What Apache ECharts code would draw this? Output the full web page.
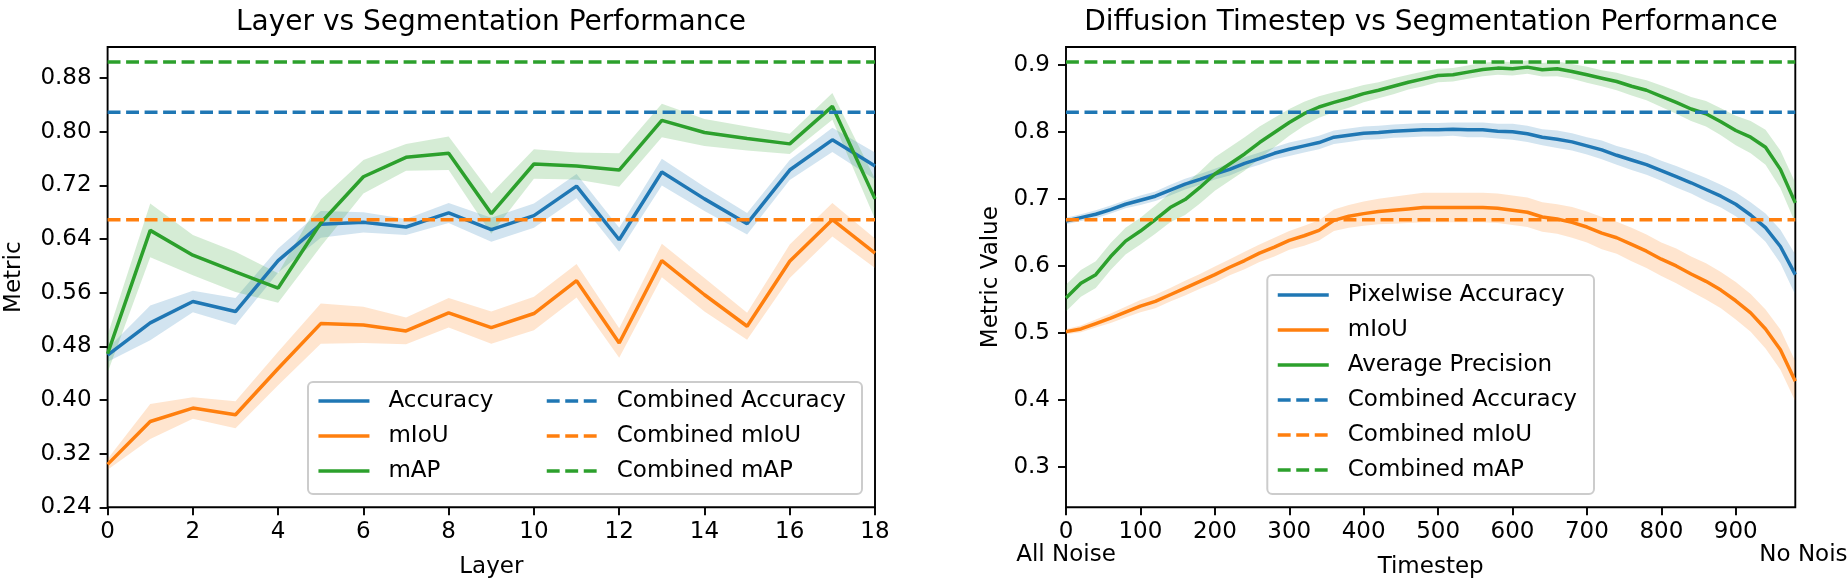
<!DOCTYPE html>
<html>
<head>
<meta charset="utf-8">
<title>Segmentation Performance</title>
<script src="https://cdn.jsdelivr.net/npm/echarts@6/dist/echarts.min.js"></script>
<style>
  html, body { margin: 0; padding: 0; background: #fff; }
  #chart { width: 1848px; height: 584px; }
</style>
</head>
<body>
<div id="chart"></div>
<script>
// ---- left panel: layer sweep ----
var layers = [0, 1, 2, 3, 4, 5, 6, 7, 8, 9, 10, 11, 12, 13, 14, 15, 16, 17, 18];
var layerAcc = [0.467, 0.515, 0.547, 0.532, 0.608, 0.662, 0.665, 0.658, 0.679, 0.654, 0.675, 0.719, 0.639, 0.740, 0.700, 0.663, 0.743, 0.788, 0.749];
var layerAccSpread = [0.010, 0.026, 0.016, 0.020, 0.018, 0.020, 0.015, 0.012, 0.015, 0.018, 0.018, 0.018, 0.018, 0.020, 0.018, 0.016, 0.015, 0.018, 0.020];
var layerMiou = [0.304, 0.368, 0.388, 0.378, 0.447, 0.514, 0.512, 0.503, 0.530, 0.508, 0.529, 0.578, 0.485, 0.608, 0.557, 0.510, 0.607, 0.669, 0.619];
var layerMiouSpread = [0.008, 0.026, 0.016, 0.020, 0.025, 0.030, 0.027, 0.020, 0.022, 0.024, 0.025, 0.025, 0.022, 0.025, 0.025, 0.020, 0.025, 0.025, 0.022];
var layerMap = [0.469, 0.653, 0.616, 0.591, 0.567, 0.664, 0.733, 0.762, 0.768, 0.678, 0.752, 0.749, 0.743, 0.817, 0.799, 0.790, 0.782, 0.838, 0.700];
var layerMapSpread = [0.028, 0.040, 0.030, 0.030, 0.022, 0.035, 0.025, 0.020, 0.025, 0.030, 0.022, 0.020, 0.025, 0.025, 0.020, 0.018, 0.015, 0.020, 0.030];

// ---- right panel: diffusion timestep sweep ----
var timesteps = [0, 20, 40, 60, 80, 100, 120, 140, 160, 180, 200, 220, 240, 260, 280, 300, 320, 340, 360, 380,
    400, 420, 440, 460, 480, 500, 520, 540, 560, 580, 600, 620, 640, 660, 680, 700, 720, 740, 760, 780,
    800, 820, 840, 860, 880, 900, 920, 940, 960, 980];
var stepAcc = [0.667, 0.672, 0.677, 0.684, 0.692, 0.698, 0.704, 0.713, 0.722, 0.729, 0.737, 0.744, 0.753, 0.760, 0.768, 0.774, 0.779, 0.784, 0.792, 0.795,
    0.798, 0.799, 0.801, 0.802, 0.803, 0.803, 0.804, 0.803, 0.803, 0.801, 0.800, 0.797, 0.792, 0.789, 0.785, 0.779, 0.773, 0.765, 0.758, 0.751,
    0.742, 0.733, 0.724, 0.714, 0.704, 0.692, 0.676, 0.657, 0.629, 0.587];
var stepAccSpread = [0.005, 0.005, 0.006, 0.006, 0.006, 0.007, 0.007, 0.008, 0.008, 0.008, 0.008, 0.009, 0.009, 0.009, 0.009, 0.010, 0.010, 0.010, 0.010, 0.010,
    0.010, 0.010, 0.010, 0.010, 0.010, 0.010, 0.010, 0.011, 0.011, 0.011, 0.012, 0.012, 0.012, 0.013, 0.013, 0.013, 0.014, 0.014, 0.015, 0.015,
    0.015, 0.016, 0.016, 0.017, 0.017, 0.018, 0.019, 0.021, 0.025, 0.030];
var stepMiou = [0.502, 0.506, 0.514, 0.522, 0.531, 0.540, 0.547, 0.557, 0.567, 0.577, 0.587, 0.598, 0.608, 0.619, 0.628, 0.638, 0.645, 0.653, 0.668, 0.674,
    0.678, 0.681, 0.683, 0.685, 0.687, 0.687, 0.687, 0.687, 0.687, 0.686, 0.683, 0.680, 0.673, 0.670, 0.665, 0.658, 0.649, 0.642, 0.632, 0.622,
    0.610, 0.600, 0.588, 0.577, 0.564, 0.548, 0.530, 0.506, 0.475, 0.428];
var stepMiouSpread = [0.004, 0.005, 0.006, 0.007, 0.008, 0.009, 0.010, 0.010, 0.011, 0.011, 0.012, 0.012, 0.013, 0.013, 0.014, 0.014, 0.015, 0.015, 0.016, 0.017,
    0.018, 0.019, 0.020, 0.021, 0.022, 0.022, 0.022, 0.022, 0.022, 0.022, 0.022, 0.022, 0.022, 0.022, 0.023, 0.023, 0.024, 0.024, 0.025, 0.025,
    0.025, 0.026, 0.026, 0.027, 0.027, 0.028, 0.028, 0.029, 0.030, 0.030];
var stepAp = [0.552, 0.574, 0.587, 0.614, 0.637, 0.652, 0.669, 0.687, 0.699, 0.717, 0.737, 0.752, 0.767, 0.784, 0.799, 0.814, 0.827, 0.837, 0.844, 0.850,
    0.857, 0.862, 0.868, 0.874, 0.879, 0.884, 0.885, 0.889, 0.893, 0.895, 0.894, 0.8965, 0.8925, 0.894, 0.890, 0.885, 0.880, 0.875, 0.868, 0.862,
    0.853, 0.844, 0.834, 0.827, 0.815, 0.802, 0.792, 0.777, 0.744, 0.694];
var stepApSpread = [0.020, 0.020, 0.020, 0.020, 0.020, 0.020, 0.021, 0.022, 0.023, 0.024, 0.025, 0.025, 0.025, 0.024, 0.022, 0.020, 0.018, 0.016, 0.015, 0.014,
    0.013, 0.012, 0.012, 0.011, 0.011, 0.010, 0.010, 0.010, 0.010, 0.010, 0.010, 0.010, 0.010, 0.011, 0.011, 0.012, 0.012, 0.013, 0.014, 0.015,
    0.016, 0.017, 0.018, 0.019, 0.020, 0.022, 0.024, 0.026, 0.028, 0.030];

// combined-feature reference levels (same in both panels)
var combinedAcc = 0.829;
var combinedMiou = 0.669;
var combinedMap = 0.904;

// axis ticks
var layerTicks = [0, 2, 4, 6, 8, 10, 12, 14, 16, 18];
var layerYTicks = [0.24, 0.32, 0.40, 0.48, 0.56, 0.64, 0.72, 0.80, 0.88];
var stepTicks = [0, 100, 200, 300, 400, 500, 600, 700, 800, 900];
var stepYTicks = [0.3, 0.4, 0.5, 0.6, 0.7, 0.8, 0.9];
var noiseTicks = [0, 1000];
var noiseLabels = ['All Noise', 'No Noise'];

var BLUE = '#1f77b4', ORANGE = '#ff7f0e', GREEN = '#2ca02c';
var FONT = 'DejaVu Sans';
var LW = 3.5;
var DASH = [12.9, 5.6];

function pairs(xs, ys) {
    return xs.map(function (x, i) { return [x, ys[i]]; });
}

// shaded spread: one polygon per band, placed through the axis scales
function band(axis, xs, mean, spread, color) {
    var rows = xs.map(function (x, i) { return [x, mean[i] - spread[i], mean[i] + spread[i]]; });
    return {
        type: 'custom', xAxisIndex: axis, yAxisIndex: axis, z: 1, silent: true,
        data: rows,
        encode: { x: 0, y: [1, 2] },
        renderItem: function (params, api) {
            if (params.dataIndex !== 0) return;
            var upper = rows.map(function (r) { return api.coord([r[0], r[2]]); });
            var lower = rows.map(function (r) { return api.coord([r[0], r[1]]); }).reverse();
            var cs = params.coordSys;
            return {
                type: 'polygon',
                shape: { points: upper.concat(lower) },
                style: { fill: color, opacity: 0.2 },
                clipPath: { type: 'rect', shape: { x: cs.x, y: cs.y, width: cs.width, height: cs.height } }
            };
        }
    };
}

function line(name, axis, data, color, dashed) {
    return {
        name: name, type: 'line', xAxisIndex: axis, yAxisIndex: axis,
        data: data, symbol: 'none', showSymbol: false, z: 3,
        emphasis: { disabled: true },
        itemStyle: { color: color },
        lineStyle: { color: color, width: LW, type: dashed ? DASH : 'solid' }
    };
}

function flat(xs, v) {
    return [[xs[0], v], [xs[xs.length - 1], v]];
}

var labelStyle = { color: '#000', fontSize: 23, fontFamily: FONT, lineHeight: 27 };
var tickStyle = { show: true, length: 8, lineStyle: { color: '#000', width: 1.9 } };

function valueAxis(extra) {
    return Object.assign({
        type: 'value',
        axisLine: { show: false },
        splitLine: { show: false },
        nameLocation: 'middle',
        nameMoveOverlap: false,
        nameTextStyle: { color: '#000', fontSize: 23, fontFamily: FONT, lineHeight: 27 }
    }, extra);
}

var series = [
    band(0, layers, layerAcc, layerAccSpread, BLUE),
    band(0, layers, layerMiou, layerMiouSpread, ORANGE),
    band(0, layers, layerMap, layerMapSpread, GREEN),
    line('Accuracy', 0, pairs(layers, layerAcc), BLUE),
    line('mIoU', 0, pairs(layers, layerMiou), ORANGE),
    line('mAP', 0, pairs(layers, layerMap), GREEN),
    line('Combined Accuracy', 0, flat(layers, combinedAcc), BLUE, true),
    line('Combined mIoU', 0, flat(layers, combinedMiou), ORANGE, true),
    line('Combined mAP', 0, flat(layers, combinedMap), GREEN, true),
    band(1, timesteps, stepAcc, stepAccSpread, BLUE),
    band(1, timesteps, stepMiou, stepMiouSpread, ORANGE),
    band(1, timesteps, stepAp, stepApSpread, GREEN),
    line('Pixelwise Accuracy', 1, pairs(timesteps, stepAcc), BLUE),
    line('mIoU', 1, pairs(timesteps, stepMiou), ORANGE),
    line('Average Precision', 1, pairs(timesteps, stepAp), GREEN),
    line('Combined Accuracy', 1, flat(timesteps, combinedAcc), BLUE, true),
    line('Combined mIoU', 1, flat(timesteps, combinedMiou), ORANGE, true),
    line('Combined mAP', 1, flat(timesteps, combinedMap), GREEN, true)
];

function legend(names, left, top, gap) {
    return {
        data: names, orient: 'vertical', left: left, top: top,
        padding: 0, itemWidth: 51, itemHeight: 14, itemGap: gap,
        selectedMode: false, z: 60,
        itemStyle: { opacity: 0 },
        lineStyle: { width: LW },
        textStyle: { color: '#000', fontSize: 23, fontFamily: FONT, lineHeight: 27, padding: [0, 0, 0, 14] }
    };
}

var titleStyle = { color: '#000', fontSize: 28, fontWeight: 'normal', fontFamily: FONT, lineHeight: 33 };

var option = {
    animation: false,
    backgroundColor: '#fff',
    title: [
        { text: 'Layer vs Segmentation Performance', left: 491, top: 6, textAlign: 'center', padding: 0, textStyle: titleStyle },
        { text: 'Diffusion Timestep vs Segmentation Performance', left: 1431, top: 6, textAlign: 'center', padding: 0, textStyle: titleStyle }
    ],
    grid: [
        { left: 107.6, top: 47, width: 767.4, height: 460.3, show: true, borderColor: '#000', borderWidth: 1.9, backgroundColor: 'transparent', outerBoundsMode: 'none', containLabel: false },
        { left: 1066, top: 47, width: 729.3, height: 460.3, show: true, borderColor: '#000', borderWidth: 1.9, backgroundColor: 'transparent', outerBoundsMode: 'none', containLabel: false },
        { left: 1066, top: 47, width: 744.5, height: 460.3, show: false, outerBoundsMode: 'none', containLabel: false }
    ],
    xAxis: [
        valueAxis({ gridIndex: 0, min: 0, max: 18, interval: 2, name: 'Layer', nameGap: 46,
            axisTick: Object.assign({ customValues: layerTicks }, tickStyle),
            axisLabel: Object.assign({ customValues: layerTicks, margin: 11 }, labelStyle) }),
        valueAxis({ gridIndex: 1, min: 0, max: 980, interval: 100, name: 'Timestep', nameGap: 46,
            axisTick: Object.assign({ customValues: stepTicks }, tickStyle),
            axisLabel: Object.assign({ customValues: stepTicks, margin: 11 }, labelStyle) }),
        valueAxis({ gridIndex: 2, min: 0, max: 1000,
            axisTick: { show: false },
            axisLabel: Object.assign({ customValues: noiseTicks, margin: 34,
                formatter: function (v) { return noiseLabels[noiseTicks.indexOf(v)] || ''; } }, labelStyle) })
    ],
    yAxis: [
        valueAxis({ gridIndex: 0, min: 0.24, max: 0.9265, interval: 0.08, name: 'Metric', nameGap: 80,
            axisTick: Object.assign({ customValues: layerYTicks }, tickStyle),
            axisLabel: Object.assign({ customValues: layerYTicks, margin: 16,
                formatter: function (v) { return v.toFixed(2); } }, labelStyle) }),
        valueAxis({ gridIndex: 1, min: 0.24, max: 0.9265, name: 'Metric Value', nameGap: 61,
            axisTick: Object.assign({ customValues: stepYTicks }, tickStyle),
            axisLabel: Object.assign({ customValues: stepYTicks, margin: 16,
                formatter: function (v) { return v.toFixed(1); } }, labelStyle) }),
        { gridIndex: 2, type: 'value', min: 0, max: 1, show: false }
    ],
    legend: [
        legend(['Accuracy', 'mIoU', 'mAP'], 316.7, 387.5, 8),
        legend(['Combined Accuracy', 'Combined mIoU', 'Combined mAP'], 545, 387.5, 8),
        legend(['Pixelwise Accuracy', 'mIoU', 'Average Precision', 'Combined Accuracy', 'Combined mIoU', 'Combined mAP'], 1276, 281.5, 8)
    ],
    graphic: [
        { type: 'rect', z: 50, silent: true, shape: { x: 308, y: 382, width: 554, height: 112, r: 5 },
          style: { fill: 'rgba(255,255,255,0.8)', stroke: '#cccccc', lineWidth: 2 } },
        { type: 'rect', z: 50, silent: true, shape: { x: 1267.3, y: 275, width: 326.7, height: 219, r: 5 },
          style: { fill: 'rgba(255,255,255,0.8)', stroke: '#cccccc', lineWidth: 2 } }
    ],
    series: series
};

var chart = echarts.init(document.getElementById('chart'), null, { renderer: 'canvas' });
chart.setOption(option);
</script>
</body>
</html>
